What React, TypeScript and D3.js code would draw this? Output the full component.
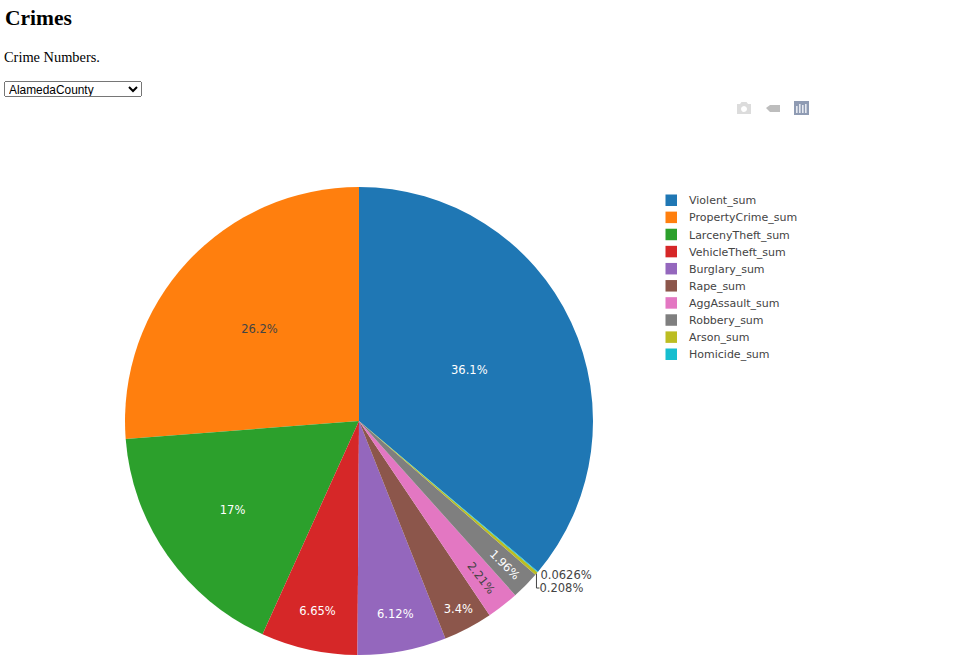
import * as d3 from 'd3';

// Legend order. The slices run counterclockwise from the end of the first one.
const categories = [
  'Violent_sum', 'PropertyCrime_sum', 'LarcenyTheft_sum', 'VehicleTheft_sum', 'Burglary_sum',
  'Rape_sum', 'AggAssault_sum', 'Robbery_sum', 'Arson_sum', 'Homicide_sum',
];
const percents = [36.1, 26.2, 17, 6.65, 6.12, 3.4, 2.21, 1.96, 0.208, 0.0626];
const percentLabels = ['36.1%', '26.2%', '17%', '6.65%', '6.12%', '3.4%', '2.21%', '1.96%', '0.208%', '0.0626%'];
const countyOptions = ['AlamedaCounty'];

// how far out each inside label sits, as a share of the radius
const labelRadius = [0.52, 0.58, 0.66, 0.83, 0.84, 0.91, 0.85, 0.875];
const radialLabels = ['2.21%', '1.96%'];
const darkTextLabels = ['26.2%', '2.21%'];

const width = 962;
const height = 659;
const cx = 359;
const cy = 421;
const radius = 234;
const font = '"DejaVu Sans", Verdana, sans-serif';

export default function App() {
  const color = d3.scaleOrdinal<string, string>().domain(categories).range(d3.schemeCategory10);
  const total = d3.sum(percents);
  const firstAngle = (percents[0] / total) * 2 * Math.PI;

  const pie = d3.pie<number>()
    .sort(null)
    .startAngle(firstAngle)
    .endAngle(firstAngle - 2 * Math.PI);
  const slices = pie(percents);

  const arc = d3.arc<d3.PieArcDatum<number>>().innerRadius(0).outerRadius(radius);

  const legendY = d3.scalePoint<string>().domain(categories).range([200.5, 354.5]);

  // small slices share one leader line at the rim
  const arsonMid = (slices[8].startAngle + slices[8].endAngle) / 2;
  const rimX = cx + Math.sin(arsonMid) * radius;
  const rimY = cy - Math.cos(arsonMid) * radius;

  return (
    <div style={{ position: 'absolute', left: 0, top: 0, width, height, overflow: 'hidden', background: '#fff' }}>
      <h2 style={{ position: 'absolute', left: 5, top: 6, margin: 0, fontSize: 21.5, lineHeight: '25px', fontFamily: '"Liberation Serif", serif' }}>
        Crimes
      </h2>
      <p style={{ position: 'absolute', left: 4, top: 48, margin: 0, fontSize: 14.4, lineHeight: '18px', fontFamily: '"Liberation Serif", serif' }}>
        Crime Numbers.
      </p>
      <select
        defaultValue={countyOptions[0]}
        style={{ position: 'absolute', left: 4, top: 81, width: 138, height: 16, padding: 0, fontSize: 11.9, lineHeight: '13px', fontFamily: '"Liberation Sans", Arial, sans-serif' }}
      >
        {countyOptions.map(c => <option key={c}>{c}</option>)}
      </select>

      <svg width={width} height={height} style={{ position: 'absolute', left: 0, top: 0, pointerEvents: 'none' }}>
        {/* mode bar */}
        <g>
          <path d="M737 104h3l1.5-2h5l1.5 2h3v10h-14z M744 106a3 3 0 1 0 .01 0z" fill="#dcdcdc" fillRule="evenodd" />
          <path d="M766 108l4-3h10v7h-10z" fill="#bdbdbd" />
          <rect x={794} y={101} width={15} height={14} fill="#8f9bb3" />
          {[796, 799, 802, 805].map((x, i) => (
            <rect key={x} x={x} y={[106, 104, 105, 104][i]} width={1.6} height={[7, 9, 8, 9][i]} fill="#e6e9f0" />
          ))}
        </g>

        <g transform={`translate(${cx},${cy})`}>
          {slices.map((s, i) => (
            <path key={categories[i]} d={arc(s) ?? ''} fill={color(categories[i])} />
          ))}
          {slices.slice(0, labelRadius.length).map((s, i) => {
            const r = labelRadius[i] * radius;
            const mid = (s.startAngle + s.endAngle) / 2;
            const x = Math.sin(mid) * r;
            const y = -Math.cos(mid) * r;
            const label = percentLabels[i];
            const rot = radialLabels.includes(label) ? (mid * 180) / Math.PI - 90 : 0;
            return (
              <text
                key={label}
                transform={`translate(${x},${y}) rotate(${rot})`}
                textAnchor="middle"
                dy="0.35em"
                fontFamily={font}
                fontSize={11.5}
                fill={darkTextLabels.includes(label) ? '#444' : '#fff'}
              >
                {label}
              </text>
            );
          })}
        </g>

        {/* outside labels for the two thin slices */}
        <path d={`M${rimX},${rimY}V${rimY + 14.5}h3`} fill="none" stroke="#444" strokeWidth={1} />
        <text x={rimX + 4} y={rimY + 1.5} dy="0.35em" fontFamily={font} fontSize={11.5} fill="#444">{percentLabels[9]}</text>
        <text x={rimX + 3} y={rimY + 14.5} dy="0.35em" fontFamily={font} fontSize={11.5} fill="#444">{percentLabels[8]}</text>

        {/* legend */}
        {categories.map(c => (
          <g key={c} transform={`translate(665,${legendY(c)})`}>
            <rect x={0.5} y={-6} width={11.5} height={11.5} fill={color(c)} />
            <text x={24} dy="0.35em" fontFamily={font} fontSize={11} fill="#444">{c}</text>
          </g>
        ))}
      </svg>
    </div>
  );
}
